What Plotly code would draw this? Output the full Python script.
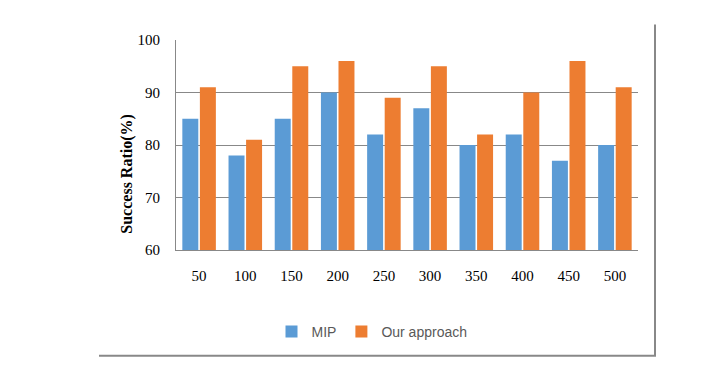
import plotly.graph_objects as go

categories = ["50", "100", "150", "200", "250", "300", "350", "400", "450", "500"]
mip = [85, 78, 85, 90, 82, 87, 80, 82, 77, 80]
ours = [91, 81, 95, 96, 89, 95, 82, 90, 96, 91]
series_names = ["MIP", "Our approach"]
y_title = "Success Ratio(%)"

fig = go.Figure()
fig.add_trace(go.Bar(x=categories, y=mip, name=series_names[0], marker_color="#5B9BD5",
                     marker_line_width=0))
fig.add_trace(go.Bar(x=categories, y=ours, name=series_names[1], marker_color="#ED7D31",
                     marker_line_width=0))

OFF = 8  # page body margin
W, H = 715 - OFF, 376 - OFF
L, R, T, B = 176 - OFF, 638 - OFF, 39.5 - OFF, 250 - OFF
pw, ph = R - L, B - T

def px(x):
    return (x - OFF - L) / pw

def py(y):
    return (B - (y - OFF)) / ph

fig.update_layout(
    width=W, height=H,
    margin=dict(l=L, r=W - R, t=T, b=H - B, autoexpand=False),
    paper_bgcolor="white", plot_bgcolor="white",
    barmode="group", bargap=0.24, bargroupgap=0.09,
    showlegend=True,
    legend=dict(orientation="h", x=px(372), xanchor="center", y=py(332), yanchor="middle",
                font=dict(family="Liberation Sans, Arial", size=14, color="#595959"),
                itemwidth=30, entrywidth=0, traceorder="normal"),
    xaxis=dict(type="category", showline=True, linecolor="#888888", linewidth=1,
               showgrid=False, ticks="", ticklabelstandoff=12,
               tickfont=dict(family="Liberation Serif, Times New Roman", size=15, color="black")),
    yaxis=dict(range=[60, 100], dtick=10, showline=True, linecolor="#888888", linewidth=1,
               showgrid=True, gridcolor="#888888", gridwidth=1, ticks="", ticklabelstandoff=12,
               zeroline=False,
               tickfont=dict(family="Liberation Serif, Times New Roman", size=15, color="black")),
    annotations=[
        dict(text="<b>" + y_title + "</b>", xref="paper", yref="paper", x=px(127), y=py(173.5),
             xanchor="center", yanchor="middle", textangle=-90, showarrow=False,
             font=dict(family="Liberation Serif, Times New Roman", size=16, color="black")),
    ],
    shapes=[
        dict(type="line", xref="paper", yref="paper", x0=px(99), x1=px(656), y0=py(356), y1=py(356),
             line=dict(color="#888888", width=2)),
        dict(type="line", xref="paper", yref="paper", x0=px(655), x1=px(655), y0=py(356), y1=py(24),
             line=dict(color="#888888", width=2)),
    ],
)

fig.write_html("out.html")
